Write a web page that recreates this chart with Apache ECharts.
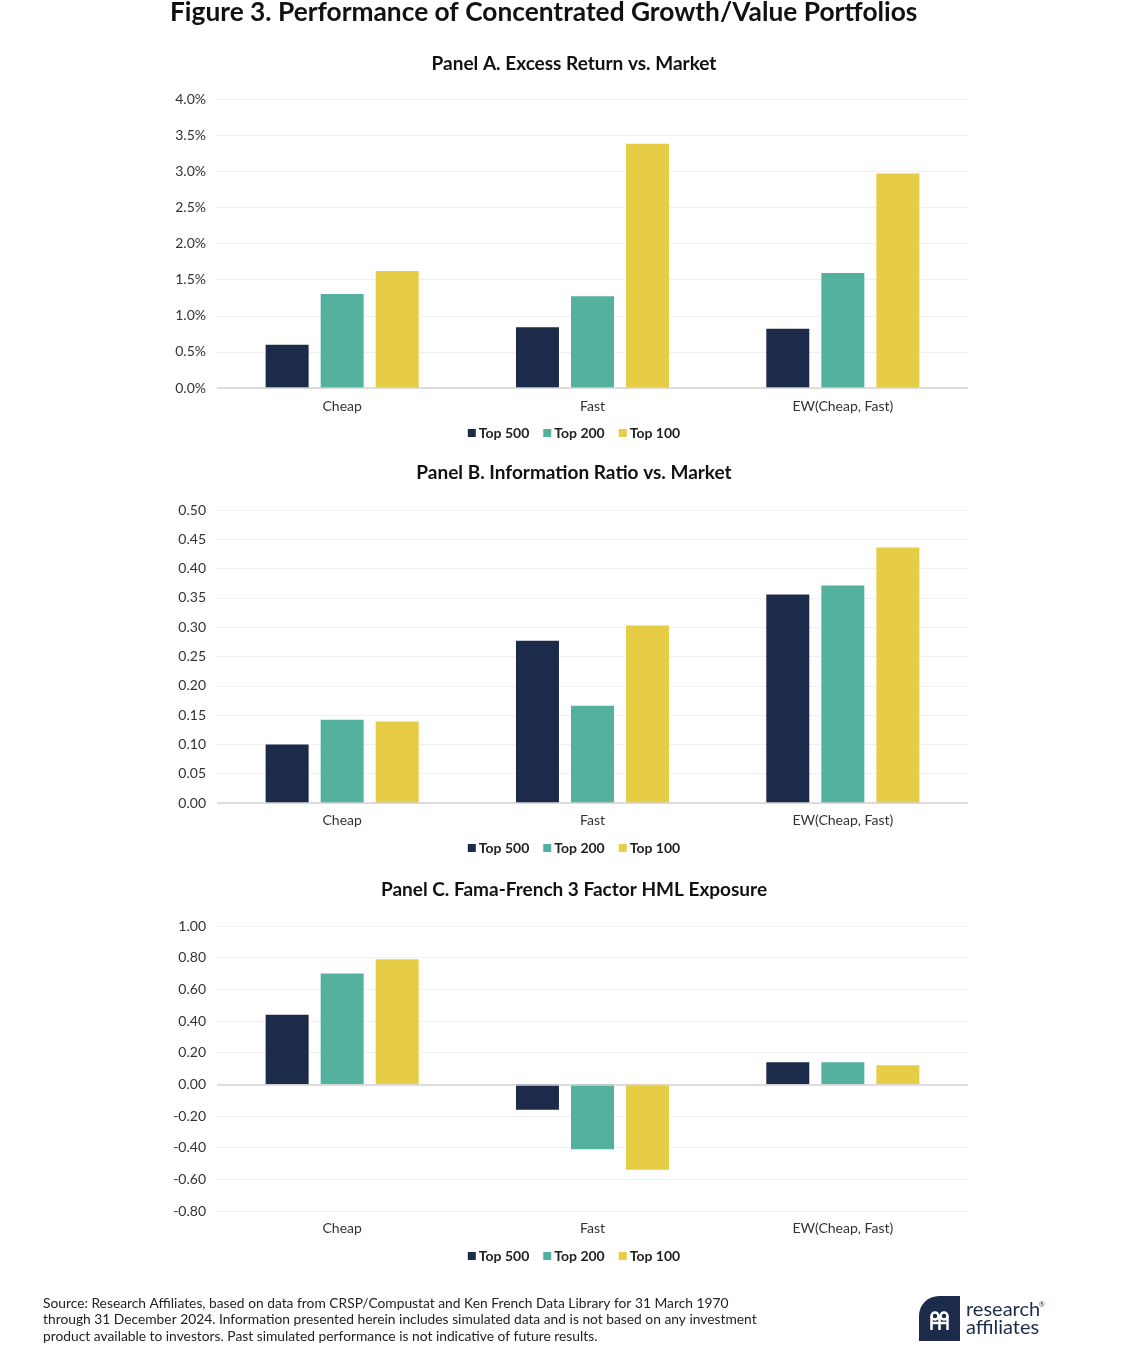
<!DOCTYPE html>
<html>
<head>
<meta charset="utf-8">
<script src="https://cdn.jsdelivr.net/npm/echarts@6/dist/echarts.min.js"></script>
<style>
html,body{margin:0;padding:0;background:#fff;}
#chart{width:1148px;height:1358px;}
</style>
</head>
<body>
<div id="chart"></div>
<script>
const categories = ['Cheap', 'Fast', 'EW(Cheap, Fast)'];
const seriesNames = ['Top 500', 'Top 200', 'Top 100'];
const colors = ['#1d2b4b', '#53b19e', '#e7cc45'];

// Panel A: Excess return vs market (%)
const excessTop500 = [0.60, 0.84, 0.82];
const excessTop200 = [1.30, 1.27, 1.59];
const excessTop100 = [1.62, 3.38, 2.97];

// Panel B: Information ratio vs market
const irTop500 = [0.10, 0.277, 0.356];
const irTop200 = [0.142, 0.166, 0.371];
const irTop100 = [0.139, 0.303, 0.436];

// Panel C: Fama-French 3 factor HML exposure
const hmlTop500 = [0.44, -0.16, 0.14];
const hmlTop200 = [0.70, -0.41, 0.14];
const hmlTop100 = [0.79, -0.54, 0.12];

const panels = [
  {title: 'Panel A. Excess Return vs. Market', data: [excessTop500, excessTop200, excessTop100],
   min: 0, max: 4, interval: 0.5, fmt: v => v.toFixed(1) + '%',
   top: 99, bottom: 388, titleY: 63, catY: 406, legendY: 432},
  {title: 'Panel B. Information Ratio vs. Market', data: [irTop500, irTop200, irTop100],
   min: 0, max: 0.5, interval: 0.05, fmt: v => v.toFixed(2),
   top: 510, bottom: 803, titleY: 472, catY: 820, legendY: 847},
  {title: 'Panel C. Fama-French 3 Factor HML Exposure', data: [hmlTop500, hmlTop200, hmlTop100],
   min: -0.8, max: 1.0, interval: 0.2, fmt: v => v.toFixed(2),
   top: 926, bottom: 1211, titleY: 889, catY: 1228, legendY: 1255}
];

const FONT = 'Lato, "Noto Sans", sans-serif';
const chart = echarts.init(document.getElementById('chart'), null, {renderer: 'canvas'});

const grids = [], xAxes = [], yAxes = [], series = [], legends = [], graphics = [];

graphics.push({type: 'text', left: 170, top: 0,
  style: {text: 'Figure 3. Performance of Concentrated Growth/Value Portfolios', font: 'bold 26.3px ' + FONT, fill: '#111'}});

panels.forEach((p, i) => {
  grids.push({left: 217, right: 180, top: p.top, height: p.bottom - p.top});
  xAxes.push({type: 'category', gridIndex: i, data: categories,
    axisLine: {show: false}, axisTick: {show: false},
    axisLabel: {color: '#333', fontSize: 14, fontFamily: FONT, margin: p.catY - p.bottom - 7}});
  yAxes.push({type: 'value', gridIndex: i, min: p.min, max: p.max, interval: p.interval,
    axisLine: {show: false}, axisTick: {show: false},
    axisLabel: {color: '#333', fontSize: 14, fontFamily: FONT, formatter: p.fmt, margin: 11},
    splitLine: {lineStyle: {color: '#f0f0f0', width: 1}}});
  p.data.forEach((d, k) => {
    const s = {type: 'bar', name: seriesNames[k], xAxisIndex: i, yAxisIndex: i, data: d,
      barWidth: 43, barGap: '28%', itemStyle: {color: colors[k]}};
    if (k === 0) {
      s.markLine = {silent: true, symbol: 'none', label: {show: false},
        lineStyle: {color: '#d4d4d4', type: 'solid', width: 1.5}, data: [{yAxis: 0}]};
    }
    series.push(s);
  });
  legends.push({top: p.legendY - 11, left: 'center', itemWidth: 8, itemHeight: 8, icon: 'rect',
    itemGap: 14, data: seriesNames, selectedMode: false,
    textStyle: {fontSize: 14, fontWeight: 'bold', color: '#222', fontFamily: FONT, padding: [0, 0, 0, -2]}});
  graphics.push({type: 'text', left: 'center', top: p.titleY - 9,
    style: {text: p.title, font: 'bold 19px ' + FONT, fill: '#111'}});
});

// footer
graphics.push({type: 'text', left: 43, top: 1295,
  style: {text: 'Source: Research Affiliates, based on data from CRSP/Compustat and Ken French Data Library for 31 March 1970\nthrough 31 December 2024. Information presented herein includes simulated data and is not based on any investment\nproduct available to investors. Past simulated performance is not indicative of future results.',
    font: '13.8px ' + FONT, fill: '#222', lineHeight: 16.5}});
// logo
graphics.push({type: 'rect', shape: {x: 919, y: 1296, width: 41, height: 45, r: [20, 0, 0, 0]}, style: {fill: '#1d2b4b'}});
graphics.push({type: 'group', children: [
  {type: 'circle', shape: {cx: 935, cy: 1316, r: 3.5}, style: {fill: 'none', stroke: '#fff', lineWidth: 2.5}},
  {type: 'circle', shape: {cx: 944, cy: 1316, r: 3.5}, style: {fill: 'none', stroke: '#fff', lineWidth: 2.5}},
  {type: 'line', shape: {x1: 931.5, y1: 1316, x2: 931.5, y2: 1330}, style: {stroke: '#fff', lineWidth: 2.5}},
  {type: 'line', shape: {x1: 939.5, y1: 1316, x2: 939.5, y2: 1330}, style: {stroke: '#fff', lineWidth: 2.5}},
  {type: 'line', shape: {x1: 947.5, y1: 1316, x2: 947.5, y2: 1330}, style: {stroke: '#fff', lineWidth: 2.5}},
  {type: 'line', shape: {x1: 931.5, y1: 1323, x2: 947.5, y2: 1323}, style: {stroke: '#fff', lineWidth: 2.5}}
]});
graphics.push({type: 'text', left: 966, top: 1300, style: {text: 'research', font: '20px ' + FONT, fill: '#1d2b4b'}});
graphics.push({type: 'text', left: 966, top: 1318, style: {text: 'affiliates', font: '20px ' + FONT, fill: '#1d2b4b'}});
graphics.push({type: 'text', left: 1039, top: 1301, style: {text: '®', font: '7px ' + FONT, fill: '#1d2b4b'}});

chart.setOption({
  animation: false,
  backgroundColor: '#fff',
  color: colors,
  grid: grids, xAxis: xAxes, yAxis: yAxes, series: series, legend: legends,
  graphic: graphics
});
</script>
</body>
</html>
